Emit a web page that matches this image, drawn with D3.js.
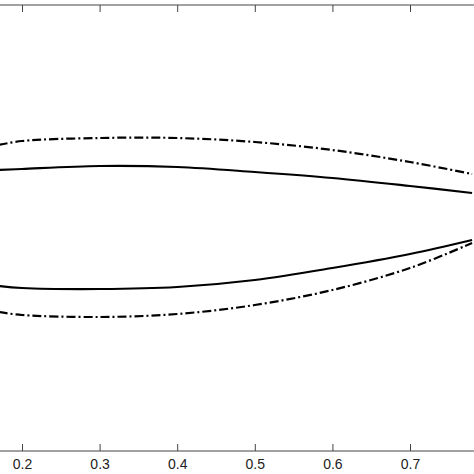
<!DOCTYPE html><html><head><script src="https://cdn.jsdelivr.net/npm/d3@7"></script>
<style>body{margin:0;background:#fff}</style></head><body><svg width="474" height="474"></svg>
<script>
const xs=[0.17,0.2,0.3,0.4,0.5,0.6,0.7,0.78];
const solidUpper=[0.58,0.59,0.62,0.61,0.56,0.50,0.42,0.35];
const solidLower=[-0.58,-0.60,-0.61,-0.59,-0.52,-0.40,-0.26,-0.12];
const dashUpper=[0.83,0.87,0.90,0.90,0.86,0.78,0.66,0.54];
const dashLower=[-0.84,-0.87,-0.89,-0.86,-0.77,-0.62,-0.40,-0.15];
const xTicks=[0.2,0.3,0.4,0.5,0.6,0.7,0.8];
const svg=d3.select("svg");
const x=d3.scaleLinear().domain([0.2,0.7]).range([22,410]);
const y=d3.scaleLinear().domain([-2.23,2.23]).range([451,5]);
const c="#444";
const gBottom=svg.append("g").attr("transform","translate(0,451)").call(d3.axisBottom(x).tickValues(xTicks).tickSize(-7).tickPadding(8).tickFormat(d3.format(".1f")));
const gTop=svg.append("g").attr("transform","translate(0,5)").call(d3.axisTop(x).tickValues(xTicks).tickSize(-7).tickFormat(""));
[gBottom,gTop].forEach(g=>{g.select(".domain").remove();g.selectAll("line").attr("stroke",c);g.selectAll("text").attr("font-family","Arial, Liberation Sans").attr("font-size",14).attr("fill","#222");});
svg.append("line").attr("x1",0).attr("x2",474).attr("y1",451).attr("y2",451).attr("stroke",c);
svg.append("line").attr("x1",0).attr("x2",474).attr("y1",5).attr("y2",5).attr("stroke",c);
const line=d3.line().x((d,i)=>x(xs[i])).y(d=>y(d)).curve(d3.curveCatmullRom);
[[solidUpper,null],[solidLower,null],[dashUpper,"9,3,2,3"],[dashLower,"9,3,2,3"]].forEach(([s,da])=>{
 svg.append("path").attr("d",line(s)).attr("fill","none").attr("stroke","#000").attr("stroke-width",2.2).attr("stroke-dasharray",da);
});
</script></body></html>
